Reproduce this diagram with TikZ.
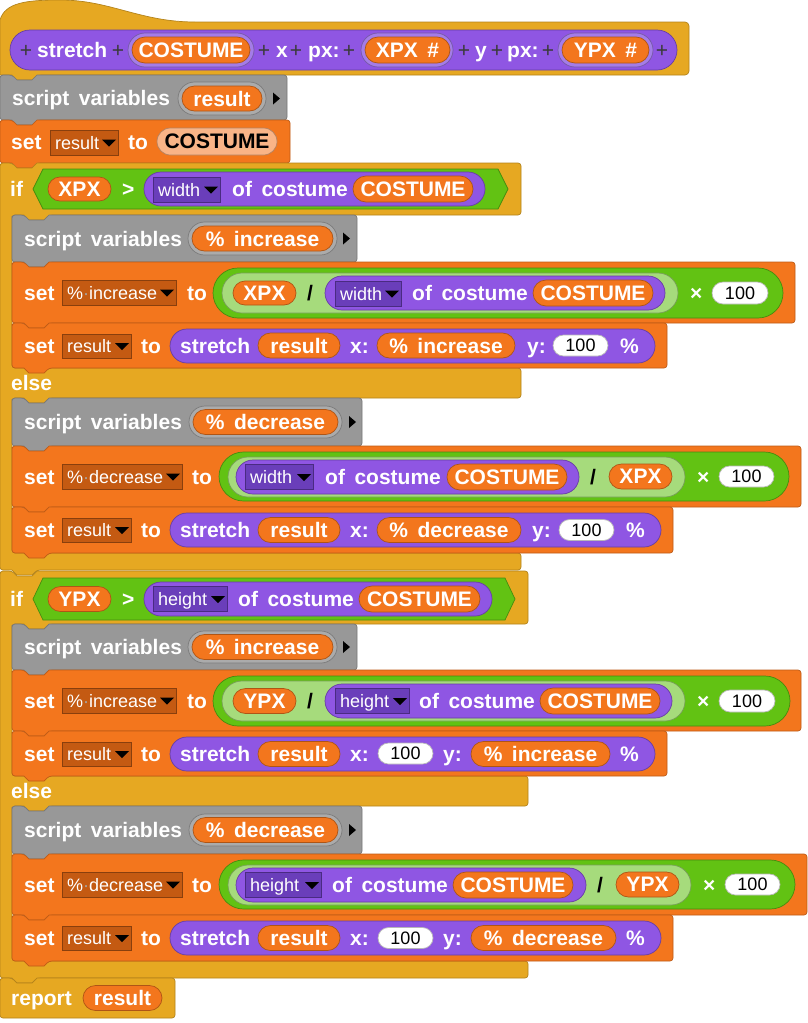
\documentclass[tikz,border=0pt]{standalone}
\usepackage{fontspec}
\setmainfont{Liberation Sans}
\usetikzlibrary{shapes.misc}

\definecolor{gold}{HTML}{E6A822}
\definecolor{vorange}{HTML}{F3761D}
\definecolor{lpurple}{HTML}{8F56E3}
\definecolor{opgreen}{HTML}{62C213}
\definecolor{sgray}{HTML}{989898}
\definecolor{zgreen}{HTML}{A6DB7C}
\definecolor{zorange}{HTML}{F9B487}
\definecolor{rimpurple}{HTML}{A47CE8}
\definecolor{rimgray}{HTML}{ABABAB}
\definecolor{droporange}{HTML}{C45A12}
\definecolor{droppurple}{HTML}{6A3EBA}
\definecolor{plusdark}{HTML}{3A3A3A}

\newcommand\labfont{\fontsize{21}{24}\selectfont\bfseries\spaceskip=9.5pt\relax}
\newcommand\regfont{\fontsize{18}{22}\selectfont}
\newcommand\plusfont{\fontsize{21}{24}\selectfont}

\tikzset{
 lab/.style={anchor=base west,inner sep=0pt,text=white,font=\labfont},
 labc/.style={anchor=base,inner sep=0pt,text=white,font=\labfont},
 pl/.style={rounded rectangle,inner sep=0pt,line width=0.7pt},
 ptx/.style={anchor=center,inner sep=0pt,text=white,font=\labfont},
 wt/.style={text=black,font=\regfont},
 blk/.style={line width=0.7pt},
}

\newcounter{nid}
\newcommand\nn{\stepcounter{nid}\edef\cn{n\arabic{nid}}}
% label: x, baseline, text
\newcommand\lab[4][]{\nn\node[lab,#1] (\cn) at (#2,#3) {#4};}
\newcommand\clab[4][]{\nn\node[labc,#1] (\cn) at (#2,#3) {#4};}
% rounded shape
\newcommand\rr[5]{\nn\node[pl,fill=#5,draw=#5!72!black,minimum width={#3-#1},minimum height={#4-#2}] (\cn) at ({(#1+#3)/2},{(#2+#4)/2}) {};}
% pill with text
\newcommand\pill[7][]{\rr{#2}{#3}{#4}{#5}{#6}%
 \nn\node[ptx,#1] (\cn) at ({(#2+#4)/2},{(#3+#5)/2}) {#7};}
\newcommand\drop[6]{%
 \nn\node[rectangle,inner sep=0pt,fill=#5,draw=#5!70!black,line width=0.7pt,minimum width={#3-#1},minimum height={#4-#2}] (\cn) at ({(#1+#3)/2},{(#2+#4)/2}) {};
 \nn\node[anchor=base west,inner sep=0pt,text=white,font=\regfont] (\cn) at ({#1+5},{(#2+#4)/2+6.5}) {#6};
 \fill[black] ({#3-16},{(#2+#4)/2-3}) -- ({#3-2},{(#2+#4)/2-3}) -- ({#3-9},{(#2+#4)/2+4}) -- cycle;}
\newcommand\hexa[4]{\path[blk,fill=opgreen,draw=opgreen!72!black] (#1,{(#2+#4)/2}) -- ({#1+10},#2) -- ({#3-10},#2) -- (#3,{(#2+#4)/2}) -- ({#3-10},#4) -- ({#1+10},#4) -- cycle;}
\newcommand\rarrow[2]{\fill[black] (#1,{#2-6}) -- ({#1+7},#2) -- (#1,{#2+6}) -- cycle;}
\newcommand\cmdblk[5]{\path[blk,fill=#5,draw=#5!78!black] (#1,{#2+4}) [rounded corners=3] -- (#1,#2) -- ({#1+12},#2) [sharp corners] -- ({#1+17},{#2+5}) -- ({#1+32},{#2+5}) -- ({#1+37},#2) [rounded corners=3] -- (#3,#2) -- (#3,#4) -- ({#1+37},#4) [sharp corners] -- ({#1+32},{#4+5}) -- ({#1+17},{#4+5}) -- ({#1+12},#4) [rounded corners=3] -- (#1,#4) -- cycle;}
\newcommand\ifelse[7]{\path[blk,fill=gold,draw=gold!78!black] (0,{#1+4}) [rounded corners=3] -- (0,#1) -- (12,#1) [sharp corners] -- (17,{#1+5}) -- (32,{#1+5}) -- (37,#1) [rounded corners=3] -- (#7,#1) -- (#7,#2) -- (49,#2) [sharp corners] -- (44,{#2+5}) -- (29,{#2+5}) -- (24,#2) [rounded corners=3] -- (12,#2) -- (12,#3) -- (#7,#3) -- (#7,#4) -- (49,#4) [sharp corners] -- (44,{#4+5}) -- (29,{#4+5}) -- (24,#4) [rounded corners=3] -- (12,#4) -- (12,#5) -- (#7,#5) -- (#7,#6) -- (37,#6) [sharp corners] -- (32,{#6+5}) -- (17,{#6+5}) -- (12,#6) [rounded corners=3] -- (0,#6) -- cycle;}
\newcommand\gdot{{\color{gray!70}·}}

\begin{document}
\begin{tikzpicture}[x=1pt,y=-1pt]
\useasboundingbox (0,0) rectangle (808,1023);
\fill[white] (0,0) rectangle (808,1023);

% ---------- hat block ----------
\path[blk,fill=gold,draw=gold!78!black] (0,75) -- (0,20) .. controls (5,3) and (25,0) .. (60,0) .. controls (110,0) and (140,22) .. (195,22) [rounded corners=4] -- (689,22) -- (689,75) -- (37,75) [sharp corners] -- (32,80) -- (17,80) -- (12,75) -- (0,75) -- cycle;
\rr{10}{30}{677}{70}{lpurple}
\clab[text=plusdark,font=\plusfont]{26}{57.5}{+}
\lab{37}{57.5}{stretch}
\clab[text=plusdark,font=\plusfont]{118}{57.5}{+}
\rr{128}{33}{254}{67}{rimpurple}
\pill{132}{37}{250}{63}{vorange}{COSTUME}
\clab[text=plusdark,font=\plusfont]{264}{57.5}{+}
\lab{276}{57.5}{x}
\clab[text=plusdark,font=\plusfont]{296}{57.5}{+}
\lab{308}{57.5}{px:}
\clab[text=plusdark,font=\plusfont]{349}{57.5}{+}
\rr{361}{33}{453}{67}{rimpurple}
\pill{365}{37}{450}{63}{vorange}{XPX \#}
\clab[text=plusdark,font=\plusfont]{464}{57.5}{+}
\lab{475}{57.5}{y}
\clab[text=plusdark,font=\plusfont]{497}{57.5}{+}
\lab{507}{57.5}{px:}
\clab[text=plusdark,font=\plusfont]{548}{57.5}{+}
\rr{558}{33}{653}{67}{rimpurple}
\pill{562}{37}{649}{63}{vorange}{YPX \#}
\clab[text=plusdark,font=\plusfont]{662}{57.5}{+}

% ---------- script variables (result) ----------
\cmdblk{0}{75}{287}{120}{sgray}
\lab{12}{105}{script variables}
\rr{178}{82}{266}{115}{rimgray}
\pill{182}{86}{262}{111}{vorange}{result}
\rarrow{273}{98.5}

% ---------- set result to COSTUME ----------
\cmdblk{0}{120}{290}{163}{vorange}
\lab{11}{149}{set}
\drop{50}{130}{118}{155}{droporange}{result}
\lab{128}{149}{to}
\pill[text=black]{157}{128}{277}{155}{zorange}{COSTUME}

% ---------- first if / else ----------
\ifelse{163}{215}{368}{398}{553}{570}{521}
\lab{10}{196.5}{if}
\hexa{33}{169}{508}{209}
\pill{48}{177}{111}{201}{vorange}{XPX}
\lab{122}{196.5}{>}
\rr{144}{172}{485}{206}{lpurple}
\drop{153}{177}{220}{202}{droppurple}{width}
\lab{232}{196.5}{of costume}
\pill{353}{176}{473}{202}{vorange}{COSTUME}

\cmdblk{12}{215}{357}{262}{sgray}
\lab{24}{246}{script variables}
\rr{188}{222}{337}{255}{rimgray}
\pill{192}{226}{333}{251}{vorange}{\% increase}
\rarrow{343}{238.5}

\cmdblk{12}{262}{795}{323}{vorange}
\lab{24}{300}{set}
\drop{62}{280}{176}{305}{droporange}{\%\gdot increase}
\lab{187}{300}{to}
\rr{213}{268}{783}{318}{opgreen}
\rr{222}{273}{678}{313}{zgreen}
\pill{233}{281}{296}{305}{vorange}{XPX}
\lab[text=black]{307}{300}{/}
\rr{325}{276}{665}{310}{lpurple}
\drop{335}{281}{401}{306}{droppurple}{width}
\lab{412}{300}{of costume}
\pill{533}{280}{653}{306}{vorange}{COSTUME}
\lab{690}{300}{×}
\pill[wt]{712}{282}{768}{304}{white}{100}

\cmdblk{12}{323}{667}{368}{vorange}
\lab{24}{353}{set}
\drop{62}{334}{131}{358}{droporange}{result}
\lab{141}{353}{to}
\rr{170}{329}{655}{363}{lpurple}
\lab{180}{353}{stretch}
\pill{258}{333}{340}{358}{vorange}{result}
\lab{350}{353}{x:}
\pill{377}{333}{515}{358}{vorange}{\% increase}
\lab{527}{353}{y:}
\pill[wt]{553}{335}{608}{356}{white}{100}
\lab{620}{353}{\%}

\lab{11}{390}{else}

\cmdblk{12}{398}{362}{446}{sgray}
\lab{24}{429.5}{script variables}
\rr{189}{406}{342}{438}{rimgray}
\pill{193}{409.5}{338}{434.5}{vorange}{\% decrease}
\rarrow{349}{422}

\cmdblk{12}{446}{801}{507}{vorange}
\lab{24}{484}{set}
\drop{62}{464}{182}{489}{droporange}{\%\gdot decrease}
\lab{192}{484}{to}
\rr{219}{452}{789}{501}{opgreen}
\rr{228}{457}{685}{497}{zgreen}
\rr{236}{460}{579}{494}{lpurple}
\drop{245}{464.5}{313}{489.5}{droppurple}{width}
\lab{325}{484}{of costume}
\pill{447}{464}{567}{490}{vorange}{COSTUME}
\lab[text=black]{590}{484}{/}
\pill{609}{464}{672}{489}{vorange}{XPX}
\lab{697}{484}{×}
\pill[wt]{719}{466}{774}{487}{white}{100}

\cmdblk{12}{507}{673}{553}{vorange}
\lab{24}{537.5}{set}
\drop{62}{518}{131}{542}{droporange}{result}
\lab{141}{537.5}{to}
\rr{170}{513}{661}{547}{lpurple}
\lab{180}{537.5}{stretch}
\pill{258}{517.5}{340}{542.5}{vorange}{result}
\lab{350}{537.5}{x:}
\pill{377}{517.5}{521}{542.5}{vorange}{\% decrease}
\lab{532}{537.5}{y:}
\pill[wt]{559}{519.5}{614}{540.5}{white}{100}
\lab{626}{537.5}{\%}

% ---------- second if / else ----------
\ifelse{571}{624}{776}{806}{961}{978}{528}
\lab{10}{606.5}{if}
\hexa{33}{578}{515}{620}
\pill{48}{586.5}{111}{611.5}{vorange}{YPX}
\lab{122}{606.5}{>}
\rr{144}{582}{492}{616}{lpurple}
\drop{153}{586.5}{227}{611.5}{droppurple}{height}
\lab{238}{606.5}{of costume}
\pill{359}{586}{480}{612}{vorange}{COSTUME}

\cmdblk{12}{624}{357}{670}{sgray}
\lab{24}{654.5}{script variables}
\rr{188}{631}{337}{663}{rimgray}
\pill{192}{634.5}{333}{659.5}{vorange}{\% increase}
\rarrow{343}{647}

\cmdblk{12}{670}{801}{731}{vorange}
\lab{24}{708}{set}
\drop{62}{688}{176}{713}{droporange}{\%\gdot increase}
\lab{187}{708}{to}
\rr{213}{676}{790}{726}{opgreen}
\rr{222}{681}{685}{721}{zgreen}
\pill{233}{688.5}{296}{713.5}{vorange}{YPX}
\lab[text=black]{307}{708}{/}
\rr{325}{684}{672}{718}{lpurple}
\drop{335}{688.5}{409}{713.5}{droppurple}{height}
\lab{419}{708}{of costume}
\pill{540}{688}{660}{714}{vorange}{COSTUME}
\lab{697}{708}{×}
\pill[wt]{719}{690}{775}{712}{white}{100}

\cmdblk{12}{731}{667}{776}{vorange}
\lab{24}{761}{set}
\drop{62}{742}{131}{766}{droporange}{result}
\lab{141}{761}{to}
\rr{170}{737}{655}{771}{lpurple}
\lab{180}{761}{stretch}
\pill{258}{741.5}{340}{766.5}{vorange}{result}
\lab{350}{761}{x:}
\pill[wt]{378}{743}{433}{764}{white}{100}
\lab{443}{761}{y:}
\pill{471}{741.5}{610}{766.5}{vorange}{\% increase}
\lab{620}{761}{\%}

\lab{11}{798.5}{else}

\cmdblk{12}{806}{362}{854}{sgray}
\lab{24}{837.5}{script variables}
\rr{189}{814}{342}{846}{rimgray}
\pill{193}{817.5}{338}{842.5}{vorange}{\% decrease}
\rarrow{349}{830}

\cmdblk{12}{854}{807}{915}{vorange}
\lab{24}{892}{set}
\drop{62}{872}{182}{897}{droporange}{\%\gdot decrease}
\lab{192}{892}{to}
\rr{219}{860}{795}{909}{opgreen}
\rr{228}{865}{691}{905}{zgreen}
\rr{236}{868}{586}{902}{lpurple}
\drop{245}{872.5}{321}{897.5}{droppurple}{height}
\lab{332}{892}{of costume}
\pill{453}{872}{573}{898}{vorange}{COSTUME}
\lab[text=black]{597}{892}{/}
\pill{616}{872}{679}{897}{vorange}{YPX}
\lab{703}{892}{×}
\pill[wt]{725}{874}{780}{895}{white}{100}

\cmdblk{12}{915}{673}{961}{vorange}
\lab{24}{945.5}{set}
\drop{62}{926}{131}{950}{droporange}{result}
\lab{141}{945.5}{to}
\rr{170}{921}{661}{955}{lpurple}
\lab{180}{945.5}{stretch}
\pill{258}{925.5}{340}{950.5}{vorange}{result}
\lab{350}{945.5}{x:}
\pill[wt]{378}{927.5}{433}{948.5}{white}{100}
\lab{443}{945.5}{y:}
\pill{471}{925.5}{616}{950.5}{vorange}{\% decrease}
\lab{626}{945.5}{\%}

% ---------- report ----------
\path[blk,fill=gold,draw=gold!78!black] (0,982) [rounded corners=3] -- (0,978) -- (12,978) [sharp corners] -- (17,983) -- (32,983) -- (37,978) [rounded corners=3] -- (175,978) -- (175,1018) -- (0,1018) -- cycle;
\lab{11}{1005.5}{report}
\pill{83}{985.5}{162}{1010.5}{vorange}{result}
\end{tikzpicture}
\end{document}
